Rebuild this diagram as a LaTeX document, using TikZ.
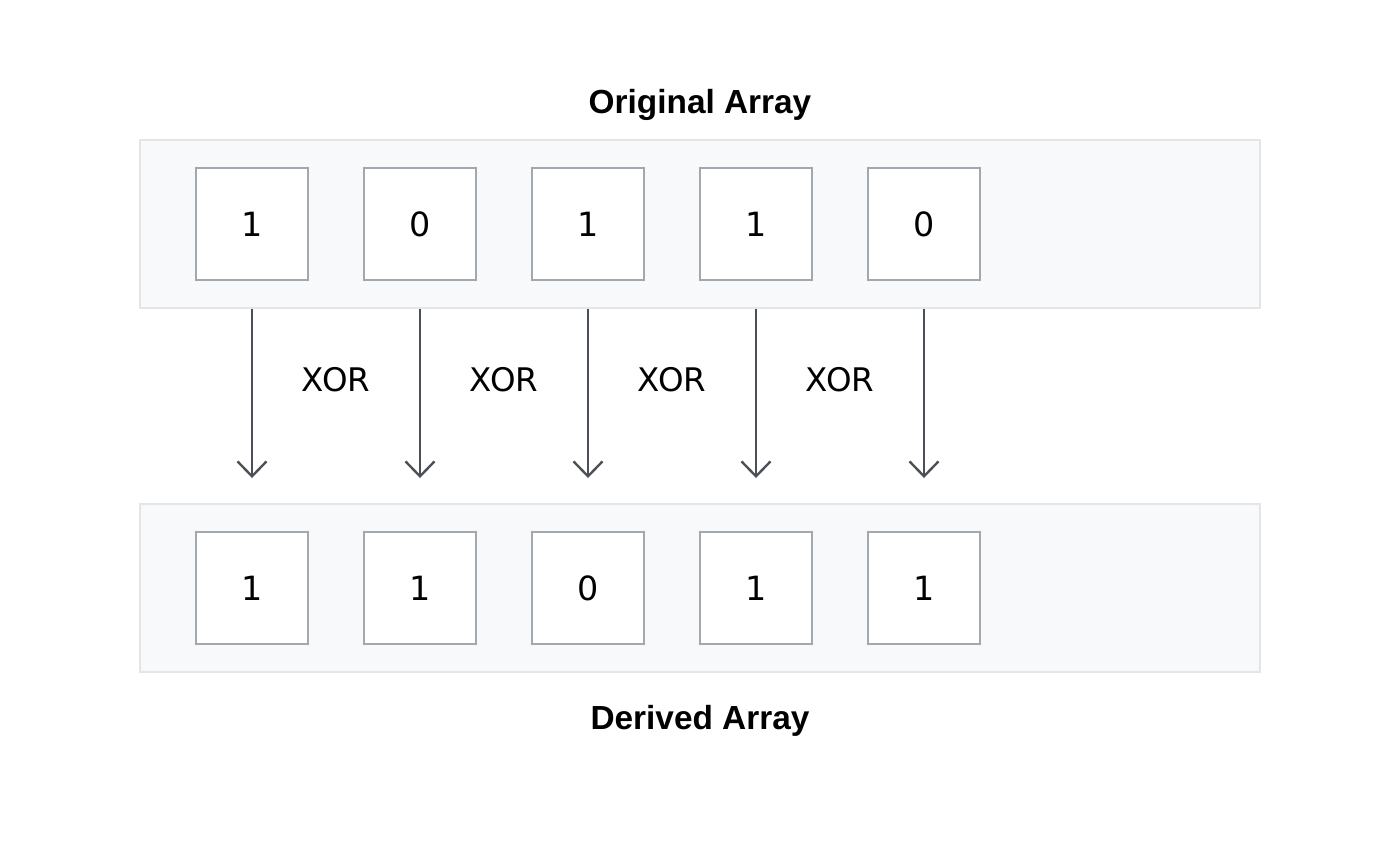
\documentclass[tikz,border=0pt]{standalone}
\usepackage{fontspec}
\setmainfont{DejaVu Sans}
\newfontfamily\titlefont{Liberation Sans}
\usetikzlibrary{arrows.meta}
\definecolor{bandfill}{HTML}{F8F9FA}
\definecolor{bandline}{HTML}{E3E5E9}
\definecolor{cellline}{HTML}{A2A8B0}
\definecolor{arrowgray}{HTML}{4B5058}
\tikzset{
  band/.style={draw=bandline, fill=bandfill, line width=1.1pt, minimum width=22.4cm, minimum height=3.36cm, inner sep=0pt},
  cell/.style={draw=cellline, fill=white, line width=1.5pt, minimum size=2.24cm, inner sep=0pt, font=\fontsize{19}{22}\selectfont},
  oplabel/.style={font=\fontsize{18.5}{22}\selectfont, inner sep=0pt},
  arr/.style={draw=arrowgray, line width=1.35pt, -{Straight Barb[length=8.5pt,width=16.5pt]}},
  title/.style={font=\titlefont\bfseries\fontsize{19}{22}\selectfont, anchor=base, inner sep=0pt}
}
\begin{document}
\begin{tikzpicture}[x=0.02cm,y=-0.02cm]
  \useasboundingbox[fill=white] (0,0) rectangle (1400,840);
  % the two arrays
  \node[band] (orig) at (700,224) {};
  \node[band] (der) at (700,588) {};
  \node[title] (origtitle) at (700,113.5) {Original Array};
  \node[title] (dertitle) at (700,729) {Derived Array};
  \foreach \v [count=\i] in {1,0,1,1,0}
    \node[cell] (t\i) at ({84+168*\i},224) {\v};
  \foreach \v [count=\i] in {1,1,0,1,1}
    \node[cell] (d\i) at ({84+168*\i},588) {\v};
  % arrows and xor labels
  \foreach \i in {1,...,5} {
    \coordinate (e\i) at (t\i |- 0,478);
    \draw[arr] (t\i |- orig.south) -- (e\i);
  }
  \foreach \i in {1,...,4}
    \node[oplabel] (x\i) at ({168+168*\i},380) {XOR};
\end{tikzpicture}
\end{document}
